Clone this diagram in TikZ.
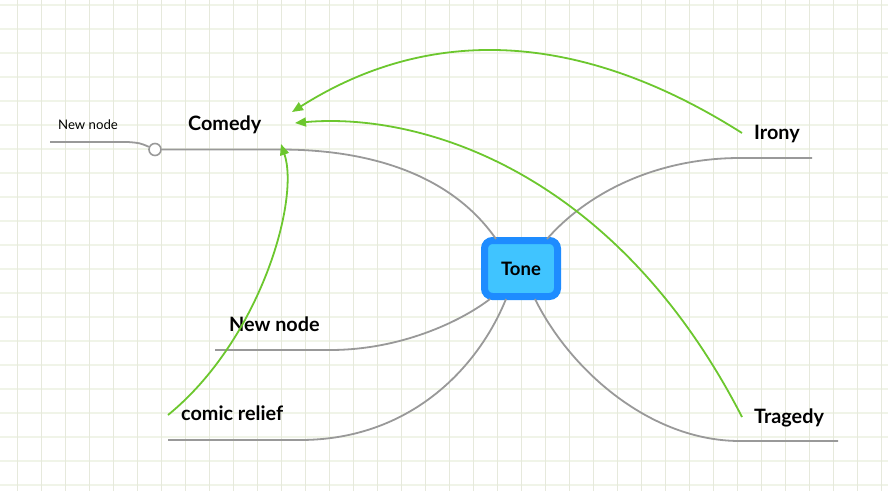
\documentclass[tikz,border=0pt]{standalone}
\usepackage{fontspec}
\setmainfont{Lato}
\usetikzlibrary{arrows.meta}
\definecolor{gridv}{HTML}{E6E9DC}
\definecolor{gridh}{HTML}{F0F4E8}
\definecolor{branch}{HTML}{999999}
\definecolor{rel}{HTML}{6CC72E}
\definecolor{toneout}{HTML}{1E8CFF}
\definecolor{tonein}{HTML}{40C4FF}
\tikzset{
  gridvline/.style={draw=gridv, line width=1pt},
  gridhline/.style={draw=gridh, line width=1.4pt},
  branchline/.style={draw=branch, line width=1.8pt},
  relarrow/.style={draw=rel, line width=1.8pt, -{Triangle[length=11pt,width=9pt]}},
  topic/.style={font=\bfseries\fontsize{19.8}{22}\selectfont, inner sep=0pt, anchor=base west},
  small/.style={font=\fontsize{13.2}{15}\selectfont, inner sep=0pt, anchor=base west},
  tonebox/.style={draw=toneout, fill=tonein, line width=7pt, rounded corners=8pt,
    minimum width=73pt, minimum height=56pt, inner sep=0pt,
    font=\bfseries\fontsize{18.5}{20}\selectfont},
  knotc/.style={circle, draw=branch, fill=white, line width=1.6pt, minimum size=12pt, inner sep=0pt}
}
\begin{document}
\begin{tikzpicture}[x=1pt,y=-1pt]
\useasboundingbox (0,0) rectangle (888,491);
\fill[white] (0,0) rectangle (888,491);
\foreach \y in {5,29,...,491} \draw[gridhline] (0,\y) -- (888,\y);
\foreach \x in {17,41,...,888} \draw[gridvline] (\x,0) -- (\x,491);

% central topic
\node[tonebox] (tone) at (521,268.5) {Tone};

% labels
\node[topic] (comedy) at (188,130) {Comedy};
\node[topic] (irony) at (754,139) {Irony};
\node[topic] (tragedy) at (754,423) {Tragedy};
\node[topic] (newnode) at (229,331) {New node};
\node[topic] (comic) at (181,420) {comic relief};
\node[small] (subnode) at (58,129) {New node};

% branch coordinates
\coordinate (tA) at (496,239);
\coordinate (tB) at (547,239);
\coordinate (tC) at (490,299);
\coordinate (tD) at (506,299);
\coordinate (tE) at (535,299);
\coordinate (cA) at (280,149.5);
\coordinate (cB) at (740,158);
\coordinate (eB) at (812,158);
\coordinate (cC) at (330,350);
\coordinate (eC) at (215,350);
\coordinate (cD) at (300,440);
\coordinate (eD) at (168,440);
\coordinate (cE) at (740,441);
\coordinate (eE) at (838,441);
\coordinate (kA) at (128,142);
\coordinate (kE) at (50,142);

\node[knotc] (knot) at (155,149.5) {};

% branches
\draw[branchline] (tA) .. controls (455,180) and (380,149.5) .. (cA) -- (knot);
\draw[branchline] (knot) .. controls (140,143) .. (kA) -- (kE);
\draw[branchline] (tB) .. controls (590,190) and (660,158) .. (cB) -- (eB);
\draw[branchline] (tC) .. controls (460,322) and (400,350) .. (cC) -- (eC);
\draw[branchline] (tD) .. controls (478,368) and (410,440) .. (cD) -- (eD);
\draw[branchline] (tE) .. controls (570,370) and (650,441) .. (cE) -- (eE);

% relationship arrows
\coordinate (inA) at (292,112);
\coordinate (inB) at (295,123);
\coordinate (inC) at (281,144);
\coordinate (sA) at (742,133);
\coordinate (sB) at (742,417);
\coordinate (sC) at (168,415);
\draw[relarrow] (sA) .. controls (581,31) and (431,24) .. (inA);
\draw[relarrow] (sB) .. controls (615,170) and (420,112) .. (inB);
\draw[relarrow] (sC) .. controls (260,340) and (300,200) .. (inC);
\end{tikzpicture}
\end{document}
